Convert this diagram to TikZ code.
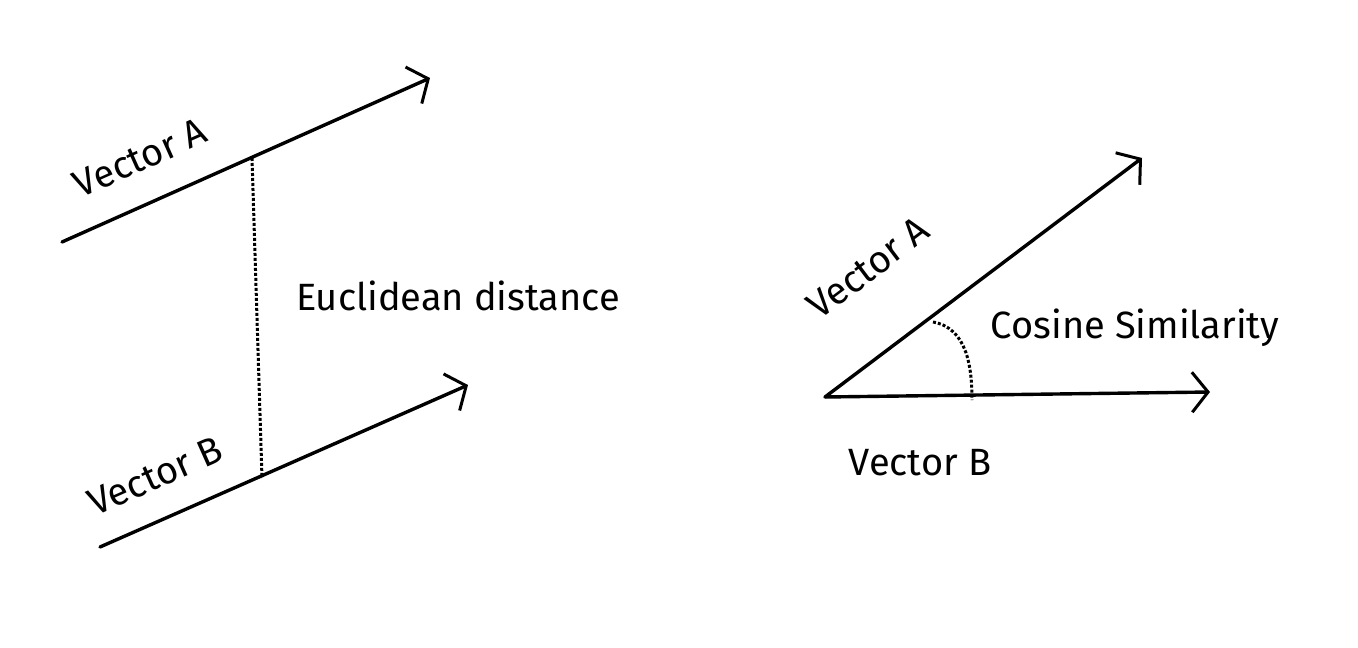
\documentclass[tikz,border=0pt]{standalone}
\usepackage{fontspec}
\setmainfont{Fira Sans}
\usetikzlibrary{arrows.meta}
\begin{document}
\begin{tikzpicture}[x=1pt,y=-1pt,
  vec/.style={line width=3.4pt,line cap=round,-{Straight Barb[length=16pt,width=40pt,line width=3pt]}},
  lbl/.style={font=\fontsize{38}{44}\selectfont,inner sep=0pt},
  dots/.style={line width=3pt,dotted}]
\useasboundingbox (0,0) rectangle (1358,648);
\coordinate (a1) at (62,242); \coordinate (a2) at (430,78);
\coordinate (b1) at (100,547); \coordinate (b2) at (468,385);
\draw[vec] (a1) -- (a2);
\draw[vec] (b1) -- (b2);
\coordinate (d1) at (252,158); \coordinate (d2) at (262,478);
\draw[dots] (d1) -- (d2);
\node[lbl,rotate=24] (la) at (140,158) {Vector A};
\node[lbl,rotate=24] (lb) at (155,476) {Vector B};
\node[lbl] (le) at (458,296) {Euclidean distance};
\coordinate (o) at (825,397);
\coordinate (ra) at (1142,158); \coordinate (rb) at (1210,392);
\draw[vec] (o) -- (ra);
\draw[vec] (o) -- (rb);
\draw[dots] (933,322) to[out=-10,in=90] (972,400);
\node[lbl,rotate=37] (rla) at (868,268) {Vector A};
\node[lbl] (rlc) at (1135,328) {Cosine Similarity};
\node[lbl] (rlb) at (920,463) {Vector B};
\end{tikzpicture}
\end{document}
